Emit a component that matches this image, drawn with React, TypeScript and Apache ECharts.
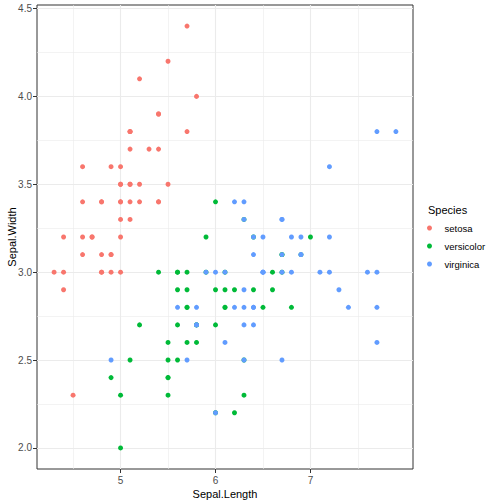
import React, { useEffect, useRef } from "react";
import * as echarts from "echarts";

const setosaLength = [5.1,4.9,4.7,4.6,5.0,5.4,4.6,5.0,4.4,4.9,5.4,4.8,4.8,4.3,5.8,5.7,5.4,5.1,5.7,5.1,5.4,5.1,4.6,5.1,4.8,5.0,5.0,5.2,5.2,4.7,4.8,5.4,5.2,5.5,4.9,5.0,5.5,4.9,4.4,5.1,5.0,4.5,4.4,5.0,5.1,4.8,5.1,4.6,5.3,5.0];
const setosaWidth = [3.5,3.0,3.2,3.1,3.6,3.9,3.4,3.4,2.9,3.1,3.7,3.4,3.0,3.0,4.0,4.4,3.9,3.5,3.8,3.8,3.4,3.7,3.6,3.3,3.4,3.0,3.4,3.5,3.4,3.2,3.1,3.4,4.1,4.2,3.1,3.2,3.5,3.6,3.0,3.4,3.5,2.3,3.2,3.5,3.8,3.0,3.8,3.2,3.7,3.3];
const versicolorLength = [7.0,6.4,6.9,5.5,6.5,5.7,6.3,4.9,6.6,5.2,5.0,5.9,6.0,6.1,5.6,6.7,5.6,5.8,6.2,5.6,5.9,6.1,6.3,6.1,6.4,6.6,6.8,6.7,6.0,5.7,5.5,5.5,5.8,6.0,5.4,6.0,6.7,6.3,5.6,5.5,5.5,6.1,5.8,5.0,5.6,5.7,5.7,6.2,5.1,5.7];
const versicolorWidth = [3.2,3.2,3.1,2.3,2.8,2.8,3.3,2.4,2.9,2.7,2.0,3.0,2.2,2.9,2.9,3.1,3.0,2.7,2.2,2.5,3.2,2.8,2.5,2.8,2.9,3.0,2.8,3.0,2.9,2.6,2.4,2.4,2.7,2.7,3.0,3.4,3.1,2.3,3.0,2.5,2.6,3.0,2.6,2.3,2.7,3.0,2.9,2.9,2.5,2.8];
const virginicaLength = [6.3,5.8,7.1,6.3,6.5,7.6,4.9,7.3,6.7,7.2,6.5,6.4,6.8,5.7,5.8,6.4,6.5,7.7,7.7,6.0,6.9,5.6,7.7,6.3,6.7,7.2,6.2,6.1,6.4,7.2,7.4,7.9,6.4,6.3,6.1,7.7,6.3,6.4,6.0,6.9,6.7,6.9,5.8,6.8,6.7,6.7,6.3,6.5,6.2,5.9];
const virginicaWidth = [3.3,2.7,3.0,2.9,3.0,3.0,2.5,2.9,2.5,3.6,3.2,2.7,3.0,2.5,2.8,3.2,3.0,3.8,2.6,2.2,3.2,2.8,2.8,2.7,3.3,3.2,2.8,3.0,2.8,3.0,2.8,3.8,2.8,2.8,2.6,3.0,3.4,3.1,3.0,3.1,3.1,3.1,2.7,3.2,3.3,3.0,2.5,3.0,3.4,3.0];

const speciesNames = ["setosa", "versicolor", "virginica"];
const speciesColors = ["#F8766D", "#00BA38", "#619CFF"];
const xTicks = [5, 6, 7];
const xMinorGrid = [4.5, 5.5, 6.5, 7.5];
const yTicks = [2.0, 2.5, 3.0, 3.5, 4.0, 4.5];
const yMinorGrid = [2.25, 2.75, 3.25, 3.75, 4.25];
const xRange = [4.12, 8.08];
const yRange = [1.88, 4.52];

const FONT = "Liberation Sans, Arial, sans-serif";

export default function App() {
  const ref = useRef<HTMLDivElement>(null);
  useEffect(() => {
    if (!ref.current) return;
    const chart = echarts.init(ref.current, null, { renderer: "svg" });
    const lengths = [setosaLength, versicolorLength, virginicaLength];
    const widths = [setosaWidth, versicolorWidth, virginicaWidth];
    const gridLines = [
      ...xMinorGrid.map((v) => ({ xAxis: v, lineStyle: { width: 0.6 } })),
      ...xTicks.map((v) => ({ xAxis: v, lineStyle: { width: 1.1 } })),
      ...yMinorGrid.map((v) => ({ yAxis: v, lineStyle: { width: 0.6 } })),
      ...yTicks.map((v) => ({ yAxis: v, lineStyle: { width: 1.1 } })),
    ];
    const series: any[] = speciesNames.map((name, i) => ({
      name,
      type: "scatter",
      symbol: "circle",
      symbolSize: 5,
      itemStyle: { color: speciesColors[i], opacity: 1 },
      data: lengths[i].map((x, j) => [x, widths[i][j]]),
      z: 10,
    }));
    series.unshift({
      type: "scatter",
      name: "_grid",
      data: [],
      silent: true,
      z: 1,
      markLine: {
        silent: true,
        z: 1,
        symbol: ["none", "none"],
        label: { show: false },
        lineStyle: { color: "#EBEBEB", type: "solid" },
        emphasis: { disabled: true },
        data: gridLines,
      },
    });
    chart.setOption({
      animation: false,
      textStyle: { fontFamily: FONT },
      grid: {
        left: 37,
        right: 91,
        top: 5,
        bottom: 35,
        show: true,
        borderColor: "#333333",
        borderWidth: 1,
        backgroundColor: "#FFFFFF",
        containLabel: false,
        outerBoundsMode: "none",
      },
      xAxis: {
        type: "value",
        min: xRange[0],
        max: xRange[1],
        name: "Sepal.Length",
        nameLocation: "middle",
        nameGap: 19,
        nameMoveOverlap: false,
        nameTextStyle: { color: "#000", fontSize: 11, fontFamily: FONT },
        axisLine: { show: false },
        splitLine: { show: false },
        axisTick: {
          show: true,
          customValues: xTicks,
          length: 4,
          lineStyle: { color: "#333333" },
        },
        axisLabel: {
          customValues: xTicks,
          color: "#4D4D4D",
          fontSize: 10,
          margin: 6,
          fontFamily: FONT,
          formatter: (v: number) => String(v),
        },
      },
      yAxis: {
        type: "value",
        min: yRange[0],
        max: yRange[1],
        name: "Sepal.Width",
        nameLocation: "middle",
        nameGap: 20,
        nameMoveOverlap: false,
        nameTextStyle: { color: "#000", fontSize: 11, fontFamily: FONT },
        axisLine: { show: false },
        splitLine: { show: false },
        axisTick: {
          show: true,
          customValues: yTicks,
          length: 4,
          lineStyle: { color: "#333333" },
        },
        axisLabel: {
          customValues: yTicks,
          color: "#4D4D4D",
          fontSize: 10,
          margin: 5,
          fontFamily: FONT,
          formatter: (v: number) => v.toFixed(1),
        },
      },
      legend: {
        data: speciesNames,
        orient: "vertical",
        left: 427,
        top: 222,
        padding: 0,
        icon: "circle",
        itemWidth: 20,
        itemHeight: 5,
        itemGap: 6,
        textStyle: { fontSize: 9.5, color: "#000", fontFamily: FONT, lineHeight: 12 },
        selectedMode: false,
      },
      graphic: [
        {
          type: "text",
          left: 428,
          top: 204,
          style: { text: "Species", fontSize: 11, fill: "#000", fontFamily: FONT },
        },
      ],
      series,
    });
    return () => chart.dispose();
  }, []);
  return (
    <div
      ref={ref}
      style={{ position: "absolute", left: 0, top: 0, width: 504, height: 504 }}
    />
  );
}
